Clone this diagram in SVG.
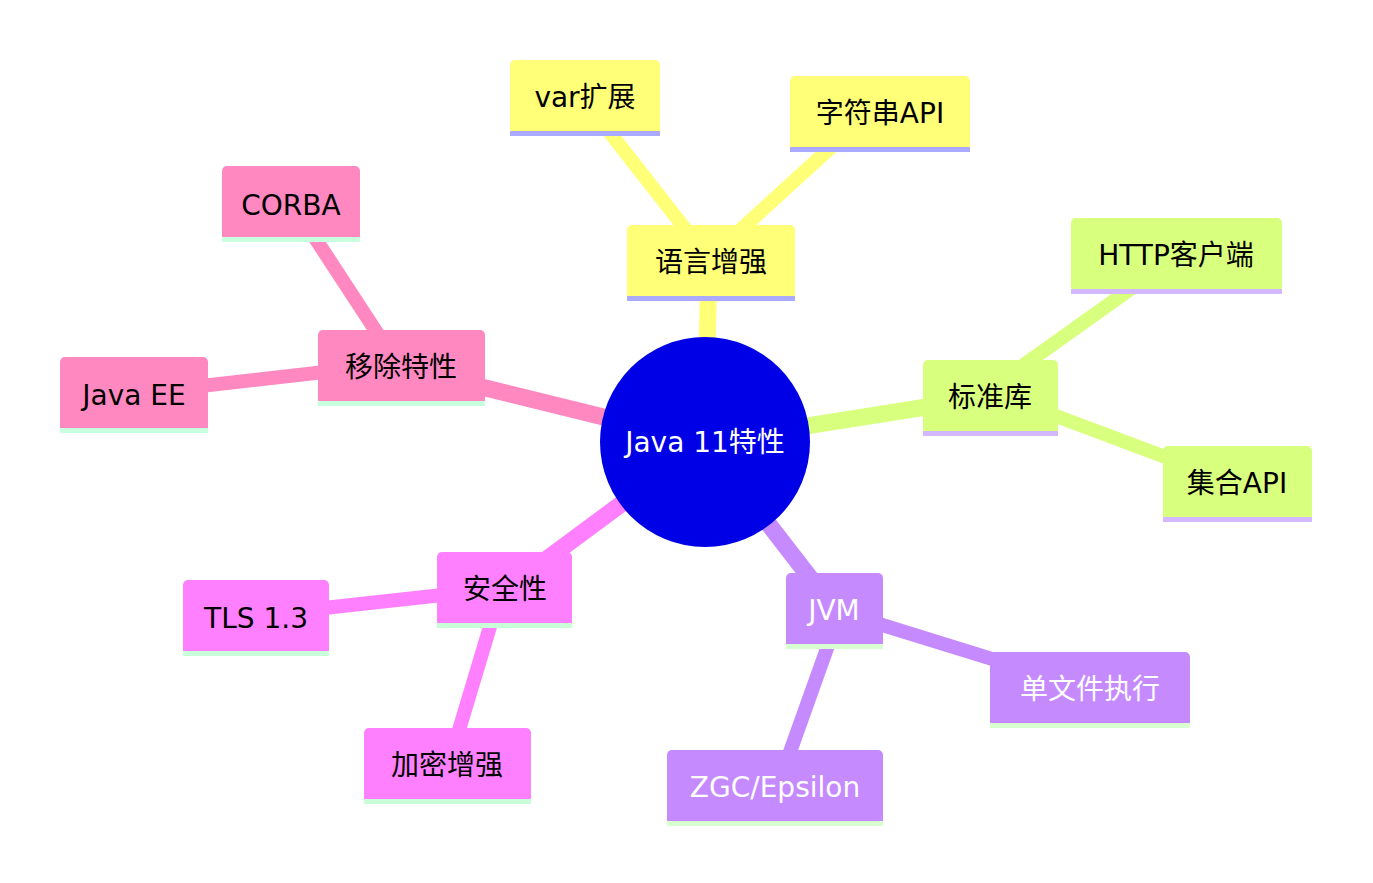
<svg xmlns="http://www.w3.org/2000/svg" width="1373" height="883" viewBox="0 0 1373 883">
<style>
text{font-family:"DejaVu Sans","Noto Sans CJK SC",sans-serif;font-size:28px;text-anchor:middle;dominant-baseline:central}
.w{fill:#fff}
.e{fill:none;stroke-linecap:butt}
.y{fill:#ffff78}.g{fill:#d9ff7f}.p{fill:#c68aff}.m{fill:#ff80ff}.r{fill:#ff88c0}
</style>
<rect width="1373" height="883" fill="#fff"/>
<g id="connectors" class="e">
<g stroke="#ffff78">
<line x1="705" y1="442" x2="709" y2="262" stroke-width="17"/>
<line x1="690" y1="235" x2="600" y2="120" stroke-width="14"/>
<line x1="735" y1="235" x2="850" y2="130" stroke-width="14"/>
</g>
<g stroke="#d9ff7f">
<line x1="705" y1="442" x2="990" y2="397" stroke-width="17"/>
<line x1="1010" y1="375" x2="1150" y2="275" stroke-width="14"/>
<line x1="1040" y1="410" x2="1200" y2="470" stroke-width="14"/>
</g>
<g stroke="#c68aff">
<line x1="705" y1="442" x2="835" y2="610" stroke-width="17"/>
<line x1="850" y1="615" x2="1060" y2="680" stroke-width="14"/>
<line x1="830" y1="640" x2="780" y2="780" stroke-width="14"/>
</g>
<g stroke="#ff80ff">
<line x1="705" y1="442" x2="505" y2="590" stroke-width="17"/>
<line x1="470" y1="592" x2="260" y2="615" stroke-width="14"/>
<line x1="495" y1="610" x2="450" y2="760" stroke-width="14"/>
</g>
<g stroke="#ff88c0">
<line x1="705" y1="442" x2="400" y2="367" stroke-width="17"/>
<line x1="385" y1="345" x2="300" y2="215" stroke-width="14"/>
<line x1="360" y1="368" x2="140" y2="393" stroke-width="14"/>
</g>
</g>
<g id="root"><circle cx="705" cy="442" r="105" fill="#0000e6"/><text x="705" y="442" class="w">Java 11特性</text></g>
<g id="n1"><rect x="627" y="225" width="168" height="75" rx="5" class="y"/><rect x="627" y="296" width="168" height="5" fill="#aaaaff"/><text x="711" y="262">语言增强</text></g>
<g id="n1a"><rect x="510" y="60" width="150" height="75" rx="5" class="y"/><rect x="510" y="131" width="150" height="5" fill="#aaaaff"/><text x="585" y="97">var扩展</text></g>
<g id="n1b"><rect x="790" y="76" width="180" height="75" rx="5" class="y"/><rect x="790" y="147" width="180" height="5" fill="#aaaaff"/><text x="880" y="113">字符串API</text></g>
<g id="n2"><rect x="923" y="360" width="135" height="75" rx="5" class="g"/><rect x="923" y="431" width="135" height="5" fill="#d4b8ff"/><text x="990" y="397">标准库</text></g>
<g id="n2a"><rect x="1071" y="218" width="211" height="75" rx="5" class="g"/><rect x="1071" y="289" width="211" height="5" fill="#d4b8ff"/><text x="1176" y="255">HTTP客户端</text></g>
<g id="n2b"><rect x="1163" y="446" width="149" height="75" rx="5" class="g"/><rect x="1163" y="517" width="149" height="5" fill="#d4b8ff"/><text x="1237" y="483">集合API</text></g>
<g id="n3"><rect x="786" y="573" width="97" height="75" rx="5" class="p"/><rect x="786" y="644" width="97" height="5" fill="#d8ffd0"/><text x="834" y="610" class="w">JVM</text></g>
<g id="n3a"><rect x="990" y="652" width="200" height="75" rx="5" class="p"/><rect x="990" y="723" width="200" height="5" fill="#d8ffd0"/><text x="1090" y="689" class="w">单文件执行</text></g>
<g id="n3b"><rect x="667" y="750" width="216" height="75" rx="5" class="p"/><rect x="667" y="821" width="216" height="5" fill="#d8ffd0"/><text x="775" y="787" class="w">ZGC/Epsilon</text></g>
<g id="n4"><rect x="437" y="552" width="135" height="75" rx="5" class="m"/><rect x="437" y="623" width="135" height="5" fill="#c8ffd8"/><text x="505" y="589">安全性</text></g>
<g id="n4a"><rect x="183" y="580" width="146" height="75" rx="5" class="m"/><rect x="183" y="651" width="146" height="5" fill="#c8ffd8"/><text x="256" y="618">TLS 1.3</text></g>
<g id="n4b"><rect x="364" y="728" width="167" height="75" rx="5" class="m"/><rect x="364" y="799" width="167" height="5" fill="#c8ffd8"/><text x="447" y="765">加密增强</text></g>
<g id="n5"><rect x="318" y="330" width="167" height="75" rx="5" class="r"/><rect x="318" y="401" width="167" height="5" fill="#c8ffdf"/><text x="401" y="367">移除特性</text></g>
<g id="n5a"><rect x="222" y="166" width="138" height="75" rx="5" class="r"/><rect x="222" y="237" width="138" height="5" fill="#c8ffdf"/><text x="291" y="205">CORBA</text></g>
<g id="n5b"><rect x="60" y="357" width="148" height="75" rx="5" class="r"/><rect x="60" y="428" width="148" height="5" fill="#c8ffdf"/><text x="134" y="395">Java EE</text></g>
</svg>
